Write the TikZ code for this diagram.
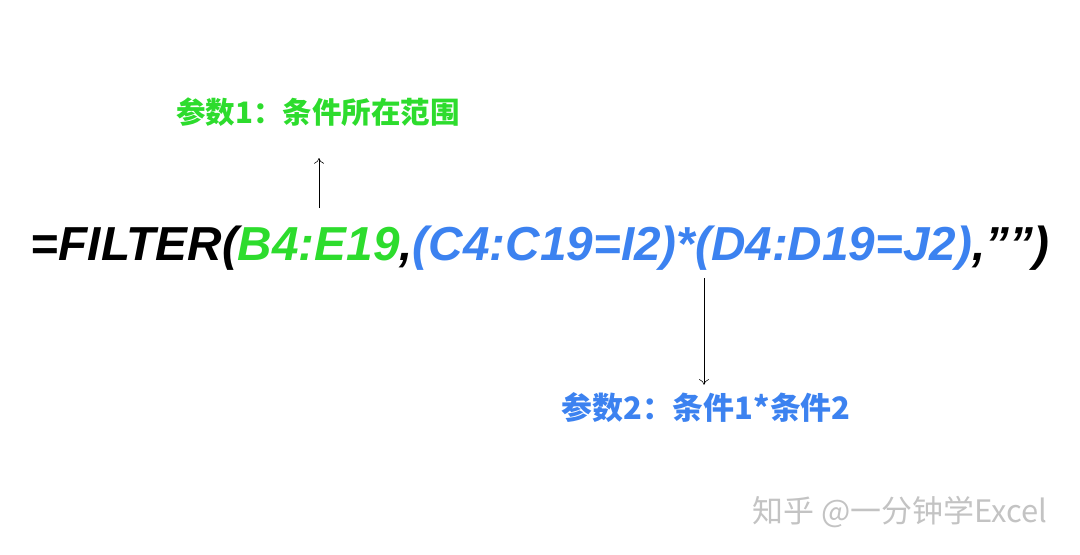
\documentclass[tikz,border=0pt]{standalone}
\usepackage{fontspec}
\setmainfont{Liberation Sans}
\newfontfamily\cjk{Noto Sans CJK SC}
\usetikzlibrary{positioning,arrows.meta}
\definecolor{fgreen}{RGB}{45,220,45}
\definecolor{fblue}{RGB}{60,130,240}
\definecolor{wmgray}{RGB}{195,195,195}
\begin{document}
\begin{tikzpicture}[>={To[length=4pt,width=7pt]}]
\useasboundingbox (0,0) rectangle (27,-13.85);

\node (formula) at (13.5,-6.2) {\resizebox{25.45cm}{!}{\bfseries\itshape =FILTER(\textcolor{fgreen}{B4:E19},\textcolor{fblue}{(C4:C19=I2)*(D4:D19=J2)},\symbol{34}\symbol{34})}};

\node[text=fgreen] (arg1) at (7.95,-2.8) {\cjk\fontsize{21}{24}\selectfont\bfseries 参数1：条件所在范围};
\node[text=fblue] (arg2) at (17.65,-10.18) {\cjk\fontsize{22}{25}\selectfont\bfseries 参数2：条件1*条件2};

\coordinate (a1) at (7.975,-5.2);
\coordinate (a1e) at (7.975,-3.95);
\coordinate (a2) at (17.6,-6.95);
\coordinate (a2e) at (17.6,-9.62);
\draw[->] (a1) -- (a1e);
\draw[->] (a2) -- (a2e);

\node[text=wmgray] (mark) at (22.5,-12.8) {\cjk\fontsize{22}{25}\selectfont 知乎 @一分钟学Excel};
\end{tikzpicture}
\end{document}
